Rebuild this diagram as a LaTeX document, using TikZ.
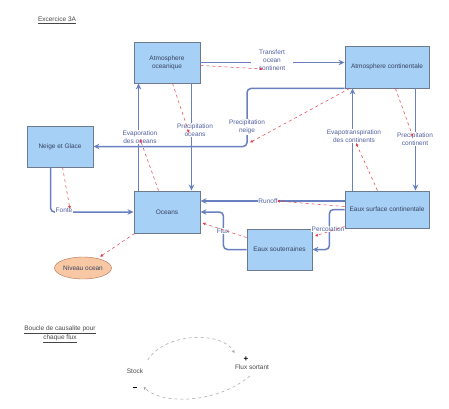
\documentclass[tikz,border=0pt]{standalone}
\usepackage{fontspec}
\setmainfont{Liberation Sans}
\usetikzlibrary{shapes.geometric,arrows.meta,calc,positioning}
\definecolor{boxfill}{RGB}{166,208,245}
\definecolor{boxline}{RGB}{110,123,143}
\definecolor{boxtext}{RGB}{55,65,95}
\definecolor{labtext}{RGB}{80,95,160}
\definecolor{flowblue}{RGB}{104,128,192}
\definecolor{causered}{RGB}{230,60,70}
\definecolor{ellipsefill}{RGB}{248,200,165}
\definecolor{ellipseline}{RGB}{180,110,80}
\definecolor{titlegray}{RGB}{70,70,70}
\definecolor{loopgray}{RGB}{160,160,160}

\begin{document}
\begin{tikzpicture}[x=1pt,y=-1pt,
  every node/.style={align=center,font=\fontsize{6.5}{7.8}\selectfont},
  box/.style={draw=boxline,fill=boxfill,line width=0.9pt,text=boxtext,minimum width=66pt,minimum height=41pt,inner sep=1pt},
  lab/.style={fill=white,inner sep=0.6pt,text=labtext},
  flow/.style={draw=flowblue,line width=1.5pt,-{Stealth[length=6pt,width=5.5pt]}},
  cause/.style={draw=causered,dashed,line width=0.5pt,-{Latex[length=3pt,width=3pt]}},
  loopline/.style={draw=loopgray,dashed,line width=0.5pt,-{Stealth[length=3pt,width=3pt]}}]
\useasboundingbox (0,0) rectangle (449,408);
\node[text=titlegray] (Titre) at (57,20) {\underline{Excercice 3A}};

% les stocks
\node[box] (AtmOcean) at (167,62.5) {Atmosphere\\oceanique};
\node[box,minimum width=84pt,minimum height=42pt] (AtmCont) at (387,67) {Atmosphere continentale};
\node[box] (NeigeGlace) at (60,146.5) {Neige et Glace};
\node[box,minimum height=42pt] (Oceans) at (167,212) {Oceans};
\node[box,minimum width=84pt,minimum height=37pt] (EauxSurface) at (387,209.5) {Eaux surface continentale};
\node[box,minimum width=65pt] (EauxSout) at (279.5,249.5) {Eaux souterraines};
\node[ellipse,draw=ellipseline,fill=ellipsefill,minimum width=57pt,minimum height=22pt,text=boxtext,inner sep=0pt] (NiveauOcean) at (83,268) {Niveau ocean};

% les flux
\coordinate (NeigeCorner) at (247,146.5);
\draw[flow] (AtmOcean.east) -- (AtmOcean.east -| AtmCont.west);
\draw[flow] ($(Oceans.north west)+(5,0)$) -- ($(AtmOcean.south west)+(5,0)$);
\draw[flow] ($(AtmOcean.south east)+(-9,0)$) -- ($(Oceans.north east)+(-9,0)$);
\draw[flow,rounded corners=4pt] (AtmCont.south west) -| (NeigeCorner) -- (NeigeGlace.east);
\draw[flow] ($(AtmCont.south east)+(-14,0)$) -- ($(EauxSurface.north east)+(-14,0)$);
\draw[flow] ($(EauxSurface.north west)+(8,0)$) -- ($(AtmCont.south west)+(8,0)$);
\draw[flow] (EauxSurface.west |- 0,201) -- (Oceans.east |- 0,201);
\draw[flow,rounded corners=4pt] (EauxSurface.west) -| ($(EauxSout.east)+(17,0)$) -- (EauxSout.east);
\draw[flow,rounded corners=4pt] (EauxSout.west) -| ($(Oceans.east)+(23,0)$) -- (Oceans.east);
\draw[flow,rounded corners=4pt] ($(NeigeGlace.south west)+(24,0)$) |- (Oceans.west);

\node[lab,inner xsep=8pt] (Transfert) at (272,60) {Transfert\\ocean\\continent};
\node[lab] (EvapOcean) at (140,137) {Evaporation\\des oceans};
\node[lab] (PrecipOcean) at (195,130) {Precipitation\\oceans};
\node[lab] (PrecipNeige) at (247,127) {Precipitation\\neige};
\node[lab] (Evapotrans) at (354,136) {Evapotranspiration\\des continents};
\node[lab] (PrecipCont) at (415,139) {Precipitation\\continent};
\node[lab] (Runoff) at (268,201) {Runoff};
\node[lab] (Percolation) at (328,229) {Percolation};
\node[lab] (Flux) at (223,231) {Flux};
\node[lab] (Fonte) at (64,210) {Fonte};

% causalite
\draw[cause] ($(AtmOcean.south west)+(39,0)$) -- ($(PrecipOcean.center)+(-6,3)$);
\draw[cause] ($(Oceans.north west)+(25,0)$) -- ($(EvapOcean.center)+(0,2)$);
\draw[cause] ($(AtmOcean.east)+(0,3)$) -- ($(Transfert.center)+(-9,9)$);
\draw[cause] ($(AtmCont.south west)+(5,0)$) -- ($(NeigeCorner)+(3,-4)$);
\draw[cause] ($(AtmCont.south east)+(-34,0)$) -- ($(PrecipCont.center)+(-2,-2)$);
\draw[cause] ($(EauxSurface.north west)+(33,0)$) -- ($(Evapotrans.center)+(2,7)$);
\draw[cause] ($(EauxSurface.west)+(0,-3)$) -- ($(Runoff.center)+(9,0)$);
\draw[cause] ($(EauxSurface.south west)+(0,-2)$) -- ($(Percolation.center)+(-13,7)$);
\draw[cause] ($(EauxSout.north west)+(0,9)$) -- ($(Oceans.east)+(2,11)$);
\draw[cause] ($(NeigeGlace.south west)+(36,0)$) -- ($(Fonte.center)+(6,-1)$);
\draw[cause] ($(Oceans.south west)+(1,0)$) -- ($(NiveauOcean.north)+(17,0)$);

% boucle
\node[text=titlegray] (Boucle) at (60,334) {\underline{Boucle de causalite pour}\\\underline{chaque flux}};
\node[text=titlegray] (Stock) at (135,371) {Stock};
\node[text=titlegray] (FluxSortant) at (252,367) {Flux sortant};
\node[font=\bfseries\fontsize{8}{8}\selectfont] (Plus) at (246,359) {+};
\node (Moins) at (135,387) {\rule{3.2pt}{0.9pt}};
\draw[loopline] ($(Stock.north east)+(1,-5)$) .. controls (165,332) and (223,331) .. ($(FluxSortant.north west)+(3,-8)$);
\draw[loopline] ($(FluxSortant.south)+(-2,3)$) .. controls (215,405) and (160,404) .. ($(Stock.south east)+(-3,10)$);
\end{tikzpicture}
\end{document}
